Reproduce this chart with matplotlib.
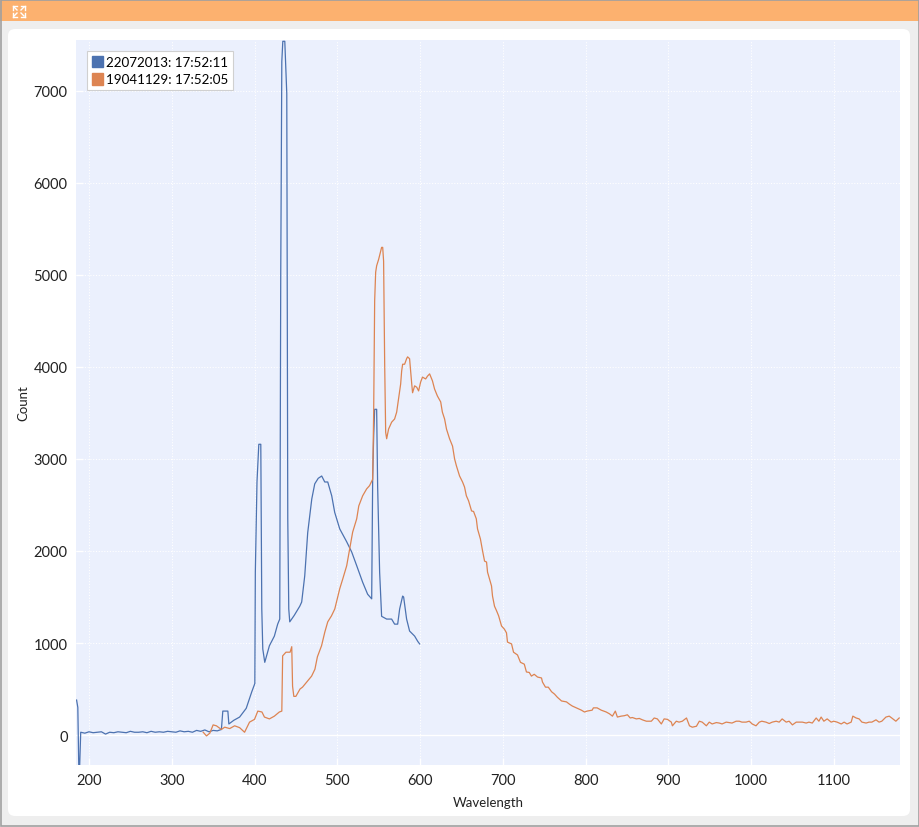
import matplotlib
matplotlib.use("Agg")
import matplotlib.pyplot as plt
from matplotlib.patches import Patch, FancyBboxPatch, Rectangle
from matplotlib.lines import Line2D

plt.rcParams['font.family'] = ['Lato', 'DejaVu Sans']

# ---------------- data ----------------
series_names = ["22072013: 17:52:11", "19041129: 17:52:05"]
colors = ["#4C72B0", "#DD8452"]

blue_wl = [185, 186.5, 188, 190, 195, 200, 205, 210, 215, 220, 225, 230, 235, 240,
           245, 250, 255, 260, 265, 270, 275, 280, 285, 290, 295, 300, 305, 310,
           315, 320, 325, 330, 335, 340, 345, 350, 355, 360, 361.7, 367.8, 369,
           375, 382, 390, 396.7, 400.4, 401, 403, 405.2, 407.6, 408.8, 410, 412.4,
           418, 424, 428, 430.5, 431.7, 433, 434.2, 436.6, 439, 440.2, 441.4, 442.6,
           448, 454.7, 457, 460.7, 464.3, 469.2, 472.8, 477, 481.2, 484.9, 488.5,
           493.3, 496.9, 503, 511.4, 517.4, 523.5, 530.7, 536.7, 541.6, 542.8, 544,
           545.2, 547.6, 548.8, 551.2, 553.6, 559.7, 565.7, 569.3, 573, 575.4, 579,
           580.2, 583.8, 587.4, 593.5, 597.1, 599.5]
blue_cnt = [380, 300, -550, 30, 20, 35, 25, 30, 35, 10, 30, 25, 35, 30,
            25, 40, 30, 30, 35, 25, 40, 30, 35, 30, 40, 35, 30, 45,
            35, 40, 30, 50, 40, 55, 35, 50, 45, 60, 260, 260, 120,
            160, 195, 290, 470, 560, 1770, 2750, 3160, 3160, 1370, 935, 790,
            970, 1075, 1205, 1260, 5000, 7320, 7540, 7540, 6970, 2350, 1370, 1230,
            1300, 1400, 1445, 1730, 2200, 2565, 2730, 2790, 2815, 2750, 2750,
            2600, 2420, 2240, 2100, 1990, 1840, 1660, 1530, 1480, 2800, 3250,
            3540, 3540, 2700, 1770, 1290, 1260, 1260, 1205, 1205, 1370, 1510,
            1500, 1260, 1130, 1075, 1020, 990]

orange_wl = [338, 342, 346, 350, 354, 360, 364, 370, 376, 382, 388, 394, 400, 404,
             409, 412, 418, 424, 430, 433, 434, 438, 443, 445, 446, 447.5, 450,
             455, 458, 463, 469, 473, 476, 481, 485, 488.5, 493, 497, 499, 503,
             506.6, 511.4, 515, 518.6, 523.5, 526, 530.7, 535.5, 539, 542.8, 544,
             545.2, 546.4, 547.6, 550, 552.4, 553.6, 554.9, 556, 557.3, 558.5,
             559.7, 562, 565.7, 569.3, 571.8, 574, 576.6, 577.8, 579, 581.4, 583.8,
             585, 587.4, 588.7, 590, 591, 593.5, 596, 598.3, 600.7, 603, 606.8,
             609, 611.6, 615, 617.6, 621, 625, 627, 629.7, 632, 635.7, 639.3,
             641.8, 644, 647.8, 651.4, 653.8, 656, 658.7, 662.3, 664.7, 668,
             669.5, 673, 675.6, 678, 680.4, 681.6, 684, 686.4, 687.6, 690, 692.5,
             695, 698.5, 702, 704.5, 705.7, 710.6, 713, 717.8, 721.4, 726, 728.6,
             732, 734.6, 738, 742, 746.8, 748, 751.6, 755, 759, 762.5, 766, 771,
             777, 780.6, 784, 789, 795, 798.7, 802, 808, 809.5, 814, 819, 825,
             829, 832.5, 836, 838.5, 843, 847, 850.6, 854, 856.6, 861.4, 865,
             868.7, 873.5, 879.5, 883, 886.8, 891.6, 895, 899, 903.7, 905, 909.7,
             913, 917, 922, 925.6, 929, 934, 937.5, 941, 946, 949.5, 953, 958,
             961.6, 965, 970, 973.7, 977, 982, 985.8, 989, 994, 997.8, 1001.4,
             1006, 1010, 1013, 1018, 1022, 1025.6, 1030.4, 1034, 1037.6, 1042.5,
             1046, 1050, 1054.6, 1058, 1062, 1066.6, 1070, 1074, 1078.7, 1082,
             1084.7, 1088, 1092, 1096.8, 1100, 1104, 1109, 1112.5, 1116, 1121,
             1123, 1127, 1130.6, 1134, 1139, 1142.6, 1146, 1151, 1154.7, 1158,
             1163, 1167, 1170, 1175, 1179]
orange_cnt = [30, -10, 20, 110, 100, 60, 85, 70, 100, 80, 30, 140, 170, 260,
              250, 195, 175, 205, 250, 260, 860, 900, 900, 960, 530, 420, 420,
              500, 520, 575, 640, 715, 850, 970, 1120, 1230, 1295, 1370, 1445, 1590,
              1695, 1840, 2020, 2205, 2350, 2490, 2600, 2675, 2710, 2780, 3510,
              4720, 5030, 5100, 5170, 5260, 5300, 5300, 5150, 4030, 3290,
              3220, 3325, 3400, 3435, 3510, 3650, 3815, 3955, 4030, 4030, 4090,
              4110, 4090, 3945, 3815, 3720, 3795, 3780, 3740, 3835, 3890, 3870,
              3900, 3925, 3850, 3760, 3685, 3620, 3510, 3435, 3325, 3220, 3140,
              3000, 2925, 2815, 2750, 2695, 2600, 2545, 2435, 2430, 2350,
              2240, 2130, 2000, 1890, 1880, 1770, 1695, 1620, 1510, 1400, 1350,
              1295, 1185, 1150, 1110, 1010, 990, 900, 870, 790, 770, 685,
              680, 640, 660, 630, 620, 575, 520, 520, 470, 445, 410, 370,
              360, 335, 315, 295, 270, 250, 260, 270, 295, 295, 270, 250,
              230, 205, 260, 195, 205, 210, 220, 185, 190, 175, 180,
              165, 150, 150, 185, 175, 120, 175, 170, 140, 100, 150,
              140, 150, 185, 100, 85, 95, 150, 140, 100, 140, 120, 135,
              130, 120, 140, 135, 130, 150, 150, 140, 140, 150, 120,
              100, 140, 150, 140, 125, 140, 150, 140, 175, 140,
              150, 110, 140, 140, 140, 130, 140, 130, 185, 150,
              195, 150, 175, 140, 150, 140, 120, 140, 120, 140,
              205, 185, 175, 140, 130, 140, 140, 165, 140, 150,
              195, 205, 185, 150, 185]

x_ticks = [200, 300, 400, 500, 600, 700, 800, 900, 1000, 1100]
y_ticks = [0, 1000, 2000, 3000, 4000, 5000, 6000, 7000]
x_label = "Wavelength"
y_label = "Count"

# ---------------- figure ----------------
W, H = 920, 828
fig = plt.figure(figsize=(W / 100, H / 100), dpi=100)
fig.patch.set_facecolor("#eeeeee")

def px_box(x0, y0, x1, y1):
    return (x0 / W, 1 - y1 / H, (x1 - x0) / W, (y1 - y0) / H)

# white panel
bx = px_box(8, 30, 910, 817)
fig.add_artist(FancyBboxPatch((bx[0], bx[1]), bx[2], bx[3],
                              boxstyle="round,pad=0,rounding_size=0.008",
                              transform=fig.transFigure, facecolor="white",
                              edgecolor="none", zorder=0))
# header bar
hb = px_box(0, 0, W, 22)
fig.add_artist(Rectangle((hb[0], hb[1]), hb[2], hb[3], transform=fig.transFigure,
                         facecolor="#FCB16F", edgecolor="none", zorder=0))
# outer border
fig.add_artist(Rectangle((0.001, 0.001), 0.998, 0.998, transform=fig.transFigure,
                         facecolor="none", edgecolor="#a0a0a0", linewidth=1.2, zorder=5))
# expand icon in header
def fx(p):
    return p / W
def fy(p):
    return 1 - p / H
icon = [((13, 7), (13, 11)), ((13, 7), (17, 7)), ((25, 7), (21, 7)), ((25, 7), (25, 11)),
        ((13, 18), (13, 14)), ((13, 18), (17, 18)), ((25, 18), (21, 18)), ((25, 18), (25, 14)),
        ((14, 8), (17, 11)), ((24, 8), (21, 11)), ((14, 17), (17, 14)), ((24, 17), (21, 14))]
for (a, b) in icon:
    fig.add_artist(Line2D([fx(a[0]), fx(b[0])], [fy(a[1]), fy(b[1])],
                          transform=fig.transFigure, color="white", linewidth=1.0, zorder=6))

ax = fig.add_axes(px_box(76, 41, 900, 766))
ax.set_facecolor("#EBF0FD")
for s in ax.spines.values():
    s.set_visible(False)

ax.plot(blue_wl, blue_cnt, color=colors[0], linewidth=0.9, zorder=3)
ax.plot(orange_wl, orange_cnt, color=colors[1], linewidth=0.9, zorder=3)

ax.set_xlim(184.3, 1180)
ax.set_ylim(-326, 7554)
ax.set_xticks(x_ticks)
ax.set_yticks(y_ticks)
ax.grid(True, color="white", linestyle=(0, (1, 1.5)), linewidth=0.8, zorder=1)
ax.axhline(0, color="white", linewidth=1.0, zorder=1)
ax.tick_params(direction="in", color="white", length=5, width=1,
               labelsize=10.5, labelcolor="#222222", pad=6)
ax.set_xlabel(x_label, fontsize=9.5, color="#222222", labelpad=6)
ax.set_ylabel(y_label, fontsize=9.5, color="#222222", labelpad=3)

handles = [Patch(facecolor=c, edgecolor=c) for c in colors]
leg = ax.legend(handles, series_names, loc="upper left", bbox_to_anchor=(0.0133, 0.985),
                borderaxespad=0, fontsize=9.6, handlelength=0.85, handleheight=1.0,
                handletextpad=0.2, labelspacing=0.35, borderpad=0.35,
                fancybox=False, framealpha=1, edgecolor="#d0d0d0")
leg.get_frame().set_linewidth(0.8)

fig.savefig("out.png", dpi=100, facecolor=fig.get_facecolor())
